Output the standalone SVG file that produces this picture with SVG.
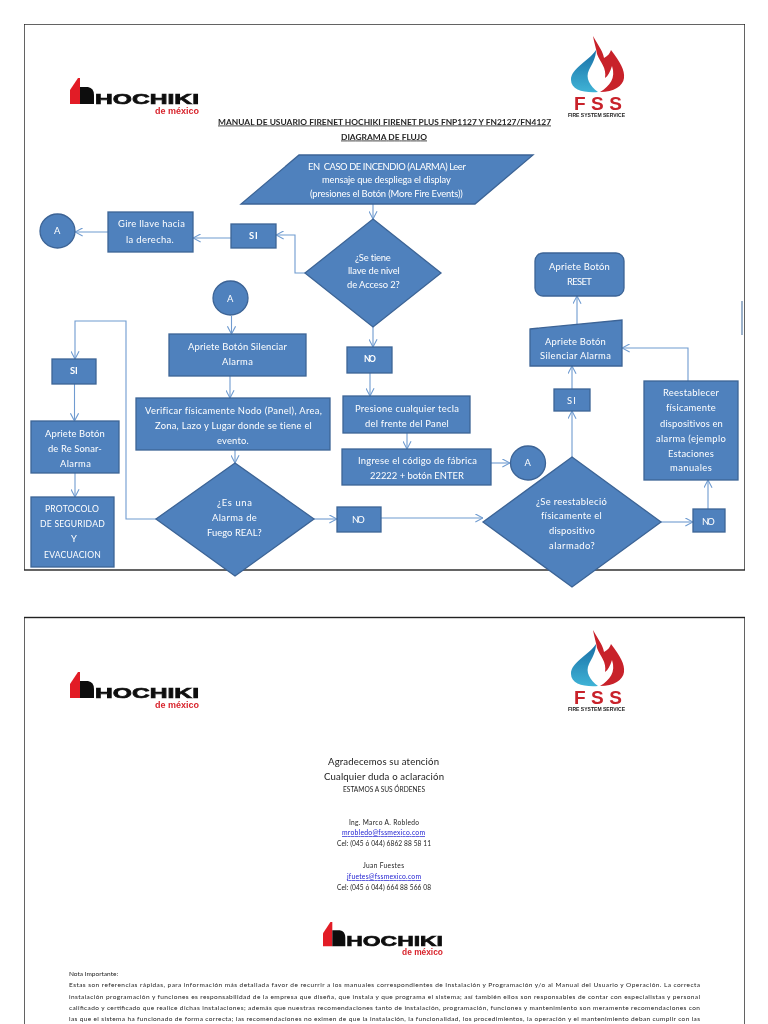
<svg xmlns="http://www.w3.org/2000/svg" xmlns:xlink="http://www.w3.org/1999/xlink" width="768" height="1024" viewBox="0 0 768 1024">
<style>
text{font-family:Lato,"Open Sans","Liberation Sans",sans-serif}
.s{fill:#4f81bd;stroke:#3c6496;stroke-width:1.3}
.t{fill:#fff;font-size:9.4px;letter-spacing:.2px}
.b{font-weight:700}
.c{fill:none;stroke:#6f9bd0;stroke-width:1.1;marker-end:url(#ah)}
.h{fill:#262626;font-size:8.4px;font-weight:700;text-decoration:underline}
.d{fill:#222;font-size:9.6px}
.e{fill:#222;font-size:6.6px}
.l{fill:#1a1ad0;font-size:6.8px;text-decoration:underline}
.n{fill:#222;font-size:6.5px}
.page{fill:#fff;stroke:#222;stroke-width:1.4}
</style>
<defs>
<filter id="soft" x="0" y="0" width="1" height="1"><feGaussianBlur stdDeviation="0.35"/></filter>
<marker id="ah" viewBox="0 0 10 10" refX="9.5" refY="5" markerWidth="9" markerHeight="9" markerUnits="userSpaceOnUse" orient="auto"><path d="M1,0.5 L9.5,5 L1,9.5" fill="none" stroke="#6f9bd0" stroke-width="1.2"/></marker>
<linearGradient id="bl" x1="0" y1="0" x2="0" y2="1"><stop offset="0" stop-color="#1a6fa6"/><stop offset="1" stop-color="#3fb3d6"/></linearGradient>
<g id="hochiki">
<path d="M70,90 L78,78 L80,78 L80,104 L70,104 Z" fill="#e21e26"/>
<path d="M80,87 L88,87 Q94,88 94,95 L94,104 L80,104 Z" fill="#111"/>
<text x="95" y="104" font-size="15" font-weight="700" fill="#111" stroke="#111" stroke-width=".7" textLength="104" lengthAdjust="spacingAndGlyphs" style="font-family:'Liberation Sans',sans-serif">HOCHIKI</text>
<text x="155" y="113.500" font-size="9" font-weight="700" fill="#d8242c" textLength="44" lengthAdjust="spacingAndGlyphs" style="font-family:'Liberation Sans',sans-serif">de méxico</text>
</g>
<g id="fss">
<path d="M596,50 C588,62 571,68 571,80 C571,90 584,93 598,92 C590,86 585,78 589,70 C592,64 596,58 596,50 Z" fill="url(#bl)"/>
<path d="M593,36 C600,48 603,52 604,58 C608,56 610,53 611,50 C620,62 625,70 624,78 C623,86 614,92 600,92 C610,86 616,78 612,66 C610,72 608,76 605,78 C607,68 600,62 597,54 C596,48 594,42 593,36 Z" fill="#c8202a"/>
<text x="574" y="110" font-size="19" font-weight="700" fill="#c8202a" textLength="48" style="font-family:'Liberation Sans',sans-serif">FSS</text>
<text x="568" y="116.500" font-size="5" font-weight="700" fill="#222" textLength="57" lengthAdjust="spacingAndGlyphs" style="font-family:'Liberation Sans',sans-serif">FIRE SYSTEM SERVICE</text>
</g>
</defs>
<rect width="768" height="1024" fill="#fff"/>
<g filter="url(#soft)">
<g id="page1"><rect class="page" x="24" y="24" width="721" height="546"/></g>
<g id="page2"><rect class="page" x="24" y="617.500" width="721" height="440"/></g>
<g id="logos">
<use href="#hochiki" xlink:href="#hochiki"/>
<use href="#fss" xlink:href="#fss"/>
<use href="#hochiki" xlink:href="#hochiki" y="594"/>
<use href="#fss" xlink:href="#fss" y="594"/>
<use href="#hochiki" xlink:href="#hochiki" transform="translate(323,922) scale(.93) translate(-70,-78)"/>
</g>
<g id="title">
<text class="h" x="218" y="124.500" textLength="333">MANUAL DE USUARIO FIRENET HOCHIKI FIRENET PLUS FNP1127 Y FN2127/FN4127</text>
<text class="h" x="341" y="139.500" textLength="86">DIAGRAMA DE FLUJO</text>
</g>
<path d="M742,301 V335" stroke="#5a7fa8" stroke-width="1.2" fill="none"/>
<g id="connectors">
<path class="c" d="M373,204 V219"/>
<path class="c" d="M305,273 H295 V235 H276"/>
<path class="c" d="M231,238 H193"/>
<path class="c" d="M108,232 H75"/>
<path class="c" d="M373,327 V347"/>
<path class="c" d="M370,373 V396"/>
<path class="c" d="M407,433 V449"/>
<path class="c" d="M491,463 H510"/>
<path class="c" d="M231.500,316 V334"/>
<path class="c" d="M230,376 V398"/>
<path class="c" d="M235,450 V463"/>
<path class="c" d="M156,519 H126 V321 H75 V359"/>
<path class="c" d="M74.500,384 V421"/>
<path class="c" d="M75,473 V497"/>
<path class="c" d="M314,519 H337"/>
<path class="c" d="M381,518 H483"/>
<path class="c" d="M572,457 V411"/>
<path class="c" d="M572,389 V366"/>
<path class="c" d="M577,324 V296"/>
<path class="c" d="M661,522 H693"/>
<path class="c" d="M708,509 V480"/>
<path class="c" d="M688,381 V348 H622"/>
</g>
<g id="n-inicio"><path class="s" d="M299,155 H533 L475,204 H241 Z"/>
<text class="t" x="308" y="169.500" textLength="158" xml:space="preserve">EN  CASO DE INCENDIO (ALARMA) Leer</text>
<text class="t" x="322" y="182.500" textLength="129">mensaje que despliega el display</text>
<text class="t" x="310" y="196.500" textLength="153">(presiones el Botón (More Fire Events))</text></g>
<g id="n-llave"><path class="s" d="M373,219 L441,273 L373,327 L305,273 Z"/>
<text class="t" x="355" y="260.500" textLength="36">¿Se tiene</text>
<text class="t" x="348" y="273.500" textLength="52">llave de nivel</text>
<text class="t" x="347" y="287.500" textLength="53">de Acceso 2?</text></g>
<g id="n-si1"><rect class="s" x="231" y="224" width="45" height="24"/>
<text class="t b" x="249" y="238.500" textLength="9">SI</text></g>
<g id="n-gire"><rect class="s" x="108" y="212" width="85" height="40"/>
<text class="t" x="118" y="226.500" textLength="67">Gire llave hacia</text>
<text class="t" x="126" y="242.500" textLength="48">la derecha.</text></g>
<g id="n-a1"><ellipse class="s" cx="57.500" cy="231" rx="17.500" ry="17"/>
<text class="t" x="54" y="233.500">A</text></g>
<g id="n-a2"><ellipse class="s" cx="230.500" cy="298" rx="17.500" ry="17"/>
<text class="t" x="227" y="301.500">A</text></g>
<g id="n-silenciar"><rect class="s" x="169" y="334" width="137" height="42"/>
<text class="t" x="188" y="349.500" textLength="99">Apriete Botón Silenciar</text>
<text class="t" x="222" y="364.500" textLength="31">Alarma</text></g>
<g id="n-verificar"><rect class="s" x="136" y="398" width="194" height="52"/>
<text class="t" x="145" y="413.500" textLength="177">Verificar físicamente Nodo (Panel), Area,</text>
<text class="t" x="155" y="428.500" textLength="157">Zona, Lazo y Lugar donde se tiene el</text>
<text class="t" x="217" y="443.500" textLength="32">evento.</text></g>
<g id="n-fuego"><path class="s" d="M235,463 L314,519 L235,576 L156,519 Z"/>
<text class="t" x="217" y="505.500" textLength="35">¿Es una</text>
<text class="t" x="212" y="520.500" textLength="45">Alarma de</text>
<text class="t" x="207" y="535.500" textLength="55">Fuego REAL?</text></g>
<g id="n-no1"><rect class="s" x="337" y="507" width="44" height="25"/>
<text class="t" x="352" y="522.500" textLength="13">NO</text></g>
<g id="n-si2"><rect class="s" x="52" y="359" width="44" height="25"/>
<text class="t b" x="70" y="374" textLength="8">SI</text></g>
<g id="n-resonar"><rect class="s" x="31" y="421" width="88" height="52"/>
<text class="t" x="45" y="436.500" textLength="60">Apriete Botón</text>
<text class="t" x="48" y="451.500" textLength="54">de Re Sonar-</text>
<text class="t" x="60" y="466.500" textLength="31">Alarma</text></g>
<g id="n-protocolo"><rect class="s" x="31" y="497" width="83" height="70"/>
<text class="t" x="45" y="511.500" textLength="54" style="font-size:8.6px">PROTOCOLO</text>
<text class="t" x="40" y="526.500" textLength="65" style="font-size:8.6px">DE SEGURIDAD</text>
<text class="t" x="71" y="541.500">Y</text>
<text class="t" x="44" y="557.500" textLength="57" style="font-size:8.6px">EVACUACION</text></g>
<g id="n-no2"><rect class="s" x="347" y="347" width="45" height="26"/>
<text class="t b" x="364" y="361.500" textLength="12" style="font-size:8.5px">NO</text></g>
<g id="n-presione"><rect class="s" x="343" y="396" width="127" height="37"/>
<text class="t" x="355" y="411.500" textLength="104">Presione cualquier tecla</text>
<text class="t" x="365" y="426.500" textLength="84">del frente del Panel</text></g>
<g id="n-ingrese"><rect class="s" x="342" y="449" width="149" height="36"/>
<text class="t" x="358" y="463.500" textLength="119">Ingrese el código de fábrica</text>
<text class="t" x="370" y="478.500" textLength="94">22222 + botón ENTER</text></g>
<g id="n-a3"><ellipse class="s" cx="528" cy="463" rx="17.500" ry="17"/>
<text class="t" x="524.500" y="465.500">A</text></g>
<g id="n-reestablecio"><path class="s" d="M572,457 L661,522 L572,587 L483,522 Z"/>
<text class="t" x="536" y="504.500" textLength="71">¿Se reestableció</text>
<text class="t" x="541" y="518.500" textLength="61">físicamente el</text>
<text class="t" x="549" y="533.500" textLength="46">dispositivo</text>
<text class="t" x="549" y="548.500" textLength="46">alarmado?</text></g>
<g id="n-si3"><rect class="s" x="554" y="389" width="36" height="22"/>
<text class="t" x="567" y="403.500" textLength="9">SI</text></g>
<g id="n-silenciar2"><path class="s" d="M530,329 L622,320 V366 H530 Z"/>
<text class="t" x="545" y="344.500" textLength="61">Apriete Botón</text>
<text class="t" x="540" y="358.500" textLength="71">Silenciar Alarma</text></g>
<g id="n-reset"><rect class="s" x="535" y="253" width="89" height="43" rx="8"/>
<text class="t" x="549" y="269.500" textLength="61">Apriete Botón</text>
<text class="t" x="567" y="284.500" textLength="25">RESET</text></g>
<g id="n-reestablecer"><rect class="s" x="644" y="381" width="94" height="99"/>
<text class="t" x="663" y="395.500" textLength="56">Reestablecer</text>
<text class="t" x="666" y="410.500" textLength="50">físicamente</text>
<text class="t" x="660" y="426.500" textLength="63">dispositivos en</text>
<text class="t" x="656" y="441.500" textLength="70">alarma (ejemplo</text>
<text class="t" x="668" y="456.500" textLength="46">Estaciones</text>
<text class="t" x="670" y="470.500" textLength="42">manuales</text></g>
<g id="n-no3"><rect class="s" x="693" y="509" width="32" height="23"/>
<text class="t" x="702" y="524.500" textLength="13">NO</text></g>
<g id="contacto">
<text class="d" x="328" y="764.500" textLength="111">Agradecemos su atención</text>
<text class="d" x="324" y="779.500" textLength="120">Cualquier duda o aclaración</text>
<text class="e" x="343" y="791.500" textLength="82">ESTAMOS A SUS ÓRDENES</text>
<text class="e" x="349" y="824.500" textLength="70">Ing. Marco A. Robledo</text>
<text class="l" x="342" y="835" textLength="83">mrobledo@fssmexico.com</text>
<text class="e" x="337" y="845.500" textLength="94">Cel: (045 ó 044) 6862 88 58 11</text>
<text class="e" x="363" y="868" textLength="41">Juan Fuestes</text>
<text class="l" x="347" y="879" textLength="74">jfuetes@fssmexico.com</text>
<text class="e" x="337" y="889.500" textLength="94">Cel: (045 ó 044) 664 88 566 08</text>
</g>
<g id="nota">
<text class="n" x="69" y="976">Nota Importante:</text>
<text class="n" x="69" y="987" textLength="631">Estas son referencias rápidas, para información más detallada favor de recurrir a los manuales correspondientes de Instalación y Programación y/o al Manual del Usuario y Operación. La correcta</text>
<text class="n" x="69" y="998.500" textLength="631">instalación programación y funciones es responsabilidad de la empresa que diseña, que instala y que programa el sistema; así también ellos son responsables de contar con especialistas y personal</text>
<text class="n" x="69" y="1010" textLength="631">calificado y certificado que realice dichas instalaciones; además que nuestras recomendaciones tanto de instalación, programación, funciones y mantenimiento son meramente recomendaciones con</text>
<text class="n" x="69" y="1021" textLength="631">las que el sistema ha funcionado de forma correcta; las recomendaciones no eximen de que la instalación, la funcionalidad, los procedimientos, la operación y el mantenimiento deban cumplir con las</text>
</g>
</g>
</svg>
